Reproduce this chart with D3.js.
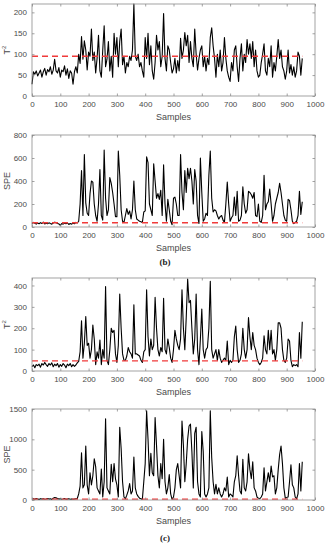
<!DOCTYPE html>
<html><head><meta charset="utf-8">
<script src="https://cdn.jsdelivr.net/npm/d3@7"></script>
<style>
html,body{margin:0;padding:0;background:#fff;}
svg{display:block;}
text{font-family:"Liberation Sans",Arial,sans-serif;}
</style></head>
<body>
<svg id="chart" width="328" height="550"></svg>
<script>
// sample index (every 5th sample)
const samples = d3.range(0, 960, 5);
const xTicks = [0,100,200,300,400,500,600,700,800,900,1000];

const t2B = [
 28,58,52,60,48,55,62,45,58,66,50,63,58,70,52,62,88,60,55,68,
 45,62,58,72,50,65,42,60,55,28,58,70,55,100,78,142,88,132,110,62,
 105,95,160,85,105,55,90,145,60,45,110,168,70,88,130,60,95,45,150,100,
 140,70,130,160,75,95,55,80,70,95,85,110,220,95,85,100,70,80,60,45,
 140,90,150,75,120,60,40,80,145,110,130,70,95,197,90,60,120,110,80,55,
 65,90,55,85,60,138,90,110,152,120,145,80,130,90,70,160,100,62,90,110,
 120,70,95,60,90,75,140,163,120,90,45,100,70,110,60,80,140,90,60,45,
 35,80,60,110,120,70,35,90,125,60,100,80,135,100,125,90,130,70,110,60,
 45,50,80,100,125,60,50,90,70,120,45,80,60,95,135,90,110,70,60,40,
 60,110,55,75,50,70,45,60,105,95,50,90];
const speB = [
 30,40,32,25,35,28,38,30,42,26,33,28,36,30,25,35,42,38,30,27,
 15,30,25,32,28,35,22,30,25,33,28,40,35,50,200,490,100,630,210,120,
 100,290,400,390,200,100,50,200,500,100,60,670,250,100,150,430,380,300,200,90,
 90,660,450,150,50,40,100,160,110,140,70,150,400,150,70,60,50,45,40,130,
 140,610,560,200,150,100,550,400,250,290,240,320,100,540,200,50,240,150,50,20,
 250,260,200,100,100,630,300,150,490,300,510,420,510,400,200,500,400,100,30,600,
 300,50,70,120,100,450,660,250,130,150,140,100,70,90,100,60,40,200,390,200,
 50,80,100,260,100,310,50,60,100,350,200,120,150,310,300,280,250,300,100,90,
 200,50,40,100,450,150,200,220,330,200,50,100,200,250,300,380,300,200,100,60,
 50,240,230,150,50,30,40,50,100,310,110,220];
const t2C = [
 20,28,15,30,25,32,18,35,28,40,30,22,35,28,38,20,32,25,35,18,
 30,22,35,28,15,32,25,35,20,30,22,28,38,45,90,235,60,130,255,120,
 130,60,100,215,150,30,90,60,145,30,100,60,395,50,30,100,200,180,190,80,
 40,120,360,200,80,50,50,70,110,90,80,60,310,80,80,75,70,50,40,90,
 100,380,160,70,150,100,120,345,200,100,70,110,90,340,100,80,150,110,60,40,
 100,190,150,120,100,150,380,200,100,250,430,320,330,200,80,150,360,100,30,150,
 290,100,60,100,110,200,420,100,60,80,100,50,100,60,40,50,60,50,140,30,
 50,40,50,160,210,100,40,50,80,200,100,60,100,250,160,100,180,120,100,60,
 40,30,40,60,165,100,80,190,100,190,80,100,50,100,225,225,200,100,50,40,
 60,150,140,50,20,30,25,30,20,180,60,230];
const speC = [
 15,20,12,25,18,10,22,15,20,12,18,25,15,20,10,30,40,35,25,15,
 20,12,18,25,10,15,20,12,18,10,15,20,25,100,230,780,200,250,890,250,
 100,450,250,400,680,550,200,150,100,510,50,300,1340,200,150,100,590,300,600,350,
 250,50,1200,850,300,50,20,80,150,270,100,150,710,200,100,60,30,20,10,300,
 600,1470,1000,400,770,450,400,1360,900,400,200,600,350,1000,300,100,200,420,100,10,
 50,200,500,600,400,200,1300,900,300,600,1000,1220,1250,800,200,1100,1200,300,100,50,
 1130,800,100,50,100,200,1470,700,300,100,260,100,200,100,50,100,200,150,380,50,
 100,80,50,300,400,730,400,150,100,670,200,150,300,760,500,350,630,200,150,50,
 30,20,50,100,530,150,300,450,300,560,380,400,100,200,500,750,890,600,200,30,
 40,50,300,580,250,200,50,20,100,600,150,630];

const panels = [
  {values:t2B, label:"T", sup:"2", yMax:220, yTicks:[0,50,100,150,200], limit:95, top:4, bottom:96},
  {values:speB, label:"SPE", yMax:800, yTicks:[0,200,400,600,800], limit:37, top:135, bottom:227},
  {values:t2C, label:"T", sup:"2", yMax:435, yTicks:[0,100,200,300,400], limit:47, top:278, bottom:371},
  {values:speC, label:"SPE", yMax:1500, yTicks:[0,500,1000,1500], limit:14, top:409, bottom:500}
];
const captions = [{text:"(b)", y:265},{text:"(c)", y:541}];

const svg = d3.select("#chart");
const left = 32, right = 315;
const axisCol = "#8c8c8c", textCol = "#4a4a4a";
const fmt = d3.format("d");

panels.forEach(p => {
  const x = d3.scaleLinear().domain([0,1000]).range([left,right]);
  const y = d3.scaleLinear().domain([0,p.yMax]).range([p.bottom,p.top]);
  const g = svg.append("g");

  // data line
  g.append("path")
    .datum(p.values)
    .attr("fill","none").attr("stroke","#000").attr("stroke-width",1.1)
    .attr("stroke-linejoin","round")
    .attr("d", d3.line().x((d,i)=>x(samples[i])).y(d=>y(d)));

  // threshold
  g.append("line")
    .attr("x1", x(0)).attr("x2", x(samples[samples.length-1]))
    .attr("y1", y(p.limit)).attr("y2", y(p.limit))
    .attr("stroke","#f03a3a").attr("stroke-width",1.3)
    .attr("stroke-dasharray","6,4");

  // box
  g.append("rect").attr("x",left).attr("y",p.top)
    .attr("width",right-left).attr("height",p.bottom-p.top)
    .attr("fill","none").attr("stroke",axisCol).attr("stroke-width",0.8);

  // axes
  const xa = g.append("g").attr("transform",`translate(0,${p.bottom})`)
    .call(d3.axisBottom(x).tickValues(xTicks).tickFormat(fmt).tickSizeInner(-2.5).tickSizeOuter(0).tickPadding(5));
  const xt = g.append("g").attr("transform",`translate(0,${p.top})`)
    .call(d3.axisTop(x).tickValues(xTicks).tickSizeInner(-2.5).tickSizeOuter(0).tickFormat(""));
  const ya = g.append("g").attr("transform",`translate(${left},0)`)
    .call(d3.axisLeft(y).tickValues(p.yTicks).tickFormat(fmt).tickSizeInner(-2.5).tickSizeOuter(0).tickPadding(5));
  const yr = g.append("g").attr("transform",`translate(${right},0)`)
    .call(d3.axisRight(y).tickValues(p.yTicks).tickSizeInner(-2.5).tickSizeOuter(0).tickFormat(""));
  [xa,xt,ya,yr].forEach(a=>{
    a.select(".domain").remove();
    a.selectAll("line").attr("stroke",axisCol).attr("stroke-width",0.8);
    a.selectAll("text").attr("fill",textCol).style("font-size","8px")
      .style("font-family","'Liberation Sans',Arial,sans-serif");
  });

  // x label
  g.append("text").attr("x",(left+right)/2).attr("y",p.bottom+24)
    .attr("text-anchor","middle").attr("fill",textCol).style("font-size","9px")
    .text("Samples");
  // y label
  const yl = g.append("text")
    .attr("transform",`translate(10,${(p.top+p.bottom)/2}) rotate(-90)`)
    .attr("text-anchor","middle").attr("fill",textCol).style("font-size","9px");
  yl.append("tspan").text(p.label);
  if (p.sup) yl.append("tspan").attr("dy",-4).style("font-size","6px").text(p.sup);
});

captions.forEach(c=>{
  svg.append("text").attr("x",165).attr("y",c.y).attr("text-anchor","middle")
    .style("font-family","'Liberation Serif','Times New Roman',serif")
    .style("font-weight","bold").style("font-size","9px").attr("fill","#222")
    .text(c.text);
});
</script>
</body></html>
